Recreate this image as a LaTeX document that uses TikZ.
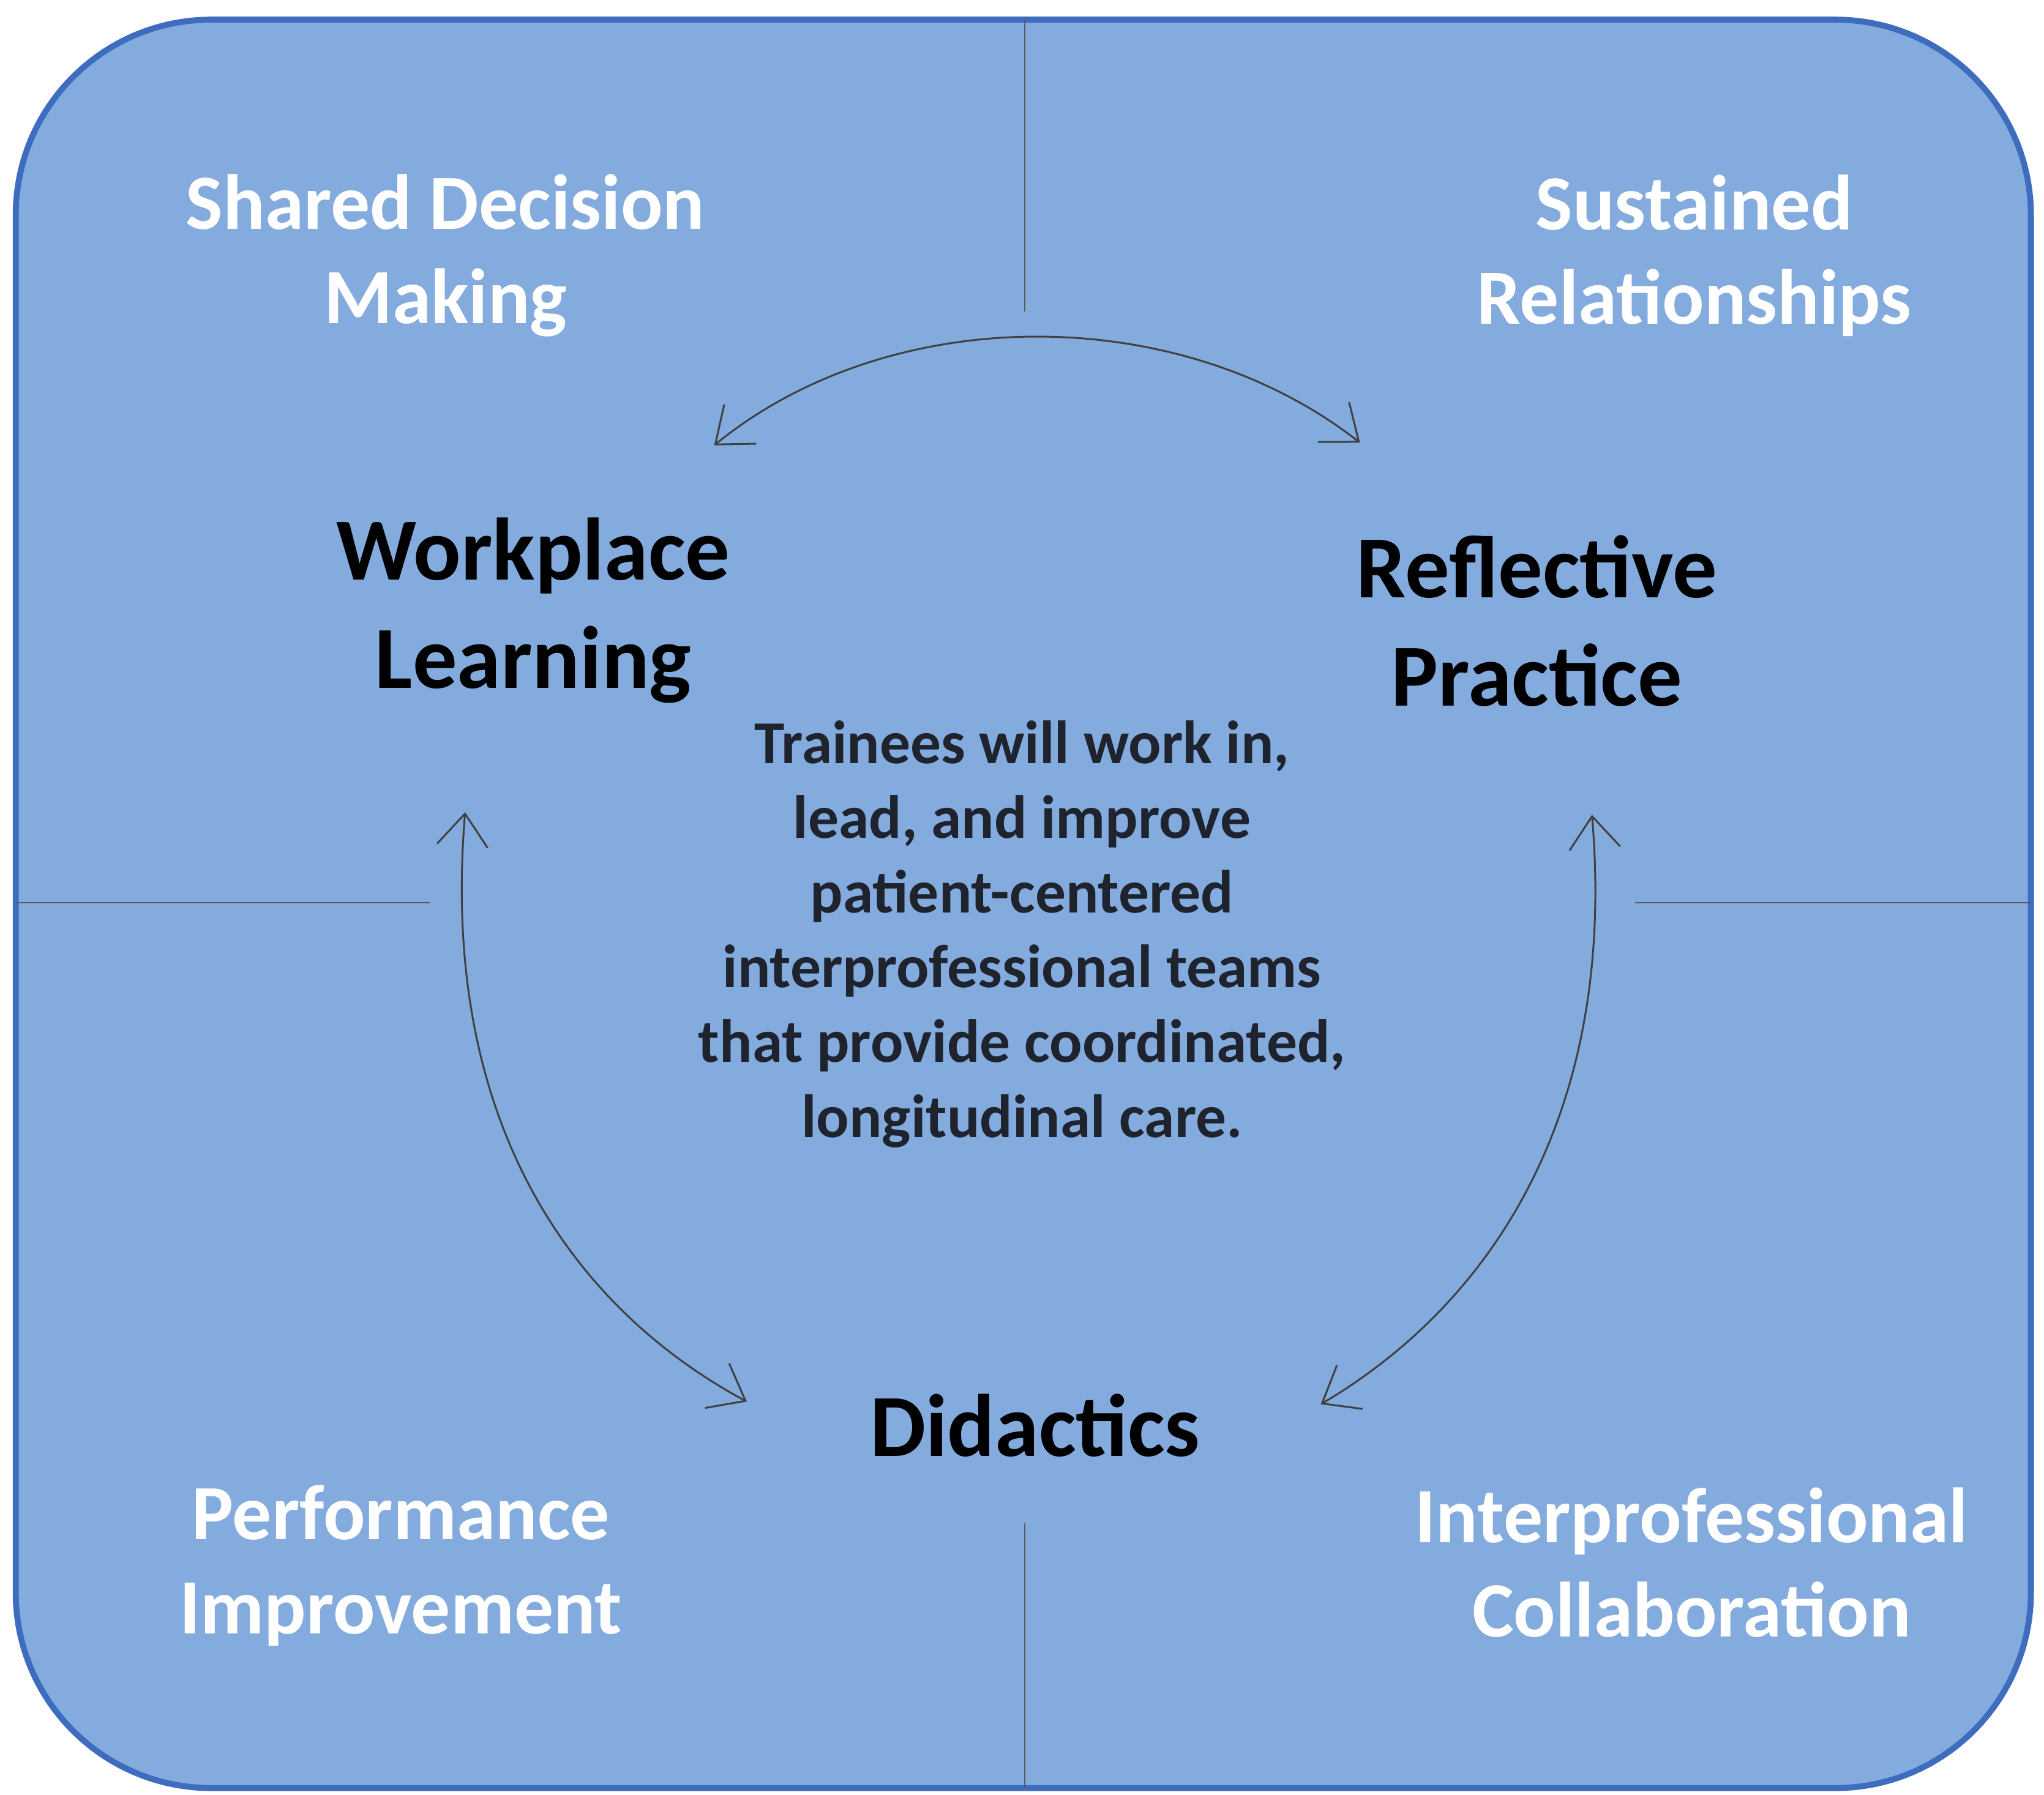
\documentclass[tikz,border=0pt]{standalone}
\usepackage{fontspec}
\setmainfont{Carlito}
\usetikzlibrary{arrows.meta}
\begin{document}
\begin{tikzpicture}[x=0.02cm,y=-0.02cm,
  corner/.style={text=white,font=\fontsize{34}{41}\selectfont\bfseries,align=center},
  main/.style={text=black,font=\fontsize{38.5}{47}\selectfont\bfseries,align=center},
  sep/.style={draw=black!65,line width=0.6pt},
  arc/.style={draw=black!75,line width=0.8pt,{Straight Barb[length=14pt,width=22pt]}-{Straight Barb[length=14pt,width=22pt]}}]
\useasboundingbox (0,0) rectangle (1560,1370);
\fill[white] (0,0) rectangle (1560,1370);
\draw[fill={rgb,255:red,131;green,171;blue,222},draw={rgb,255:red,62;green,108;blue,190},line width=2.6pt,rounded corners=85pt] (12,15) rectangle (1550,1365);
\coordinate (t1) at (782,15); \coordinate (t2) at (782,238);
\coordinate (b1) at (782,1163); \coordinate (b2) at (782,1365);
\coordinate (l1) at (12,689); \coordinate (l2) at (328,689);
\coordinate (r1) at (1248,689); \coordinate (r2) at (1550,689);
\draw[sep] (t1)--(t2); \draw[sep] (b1)--(b2); \draw[sep] (l1)--(l2); \draw[sep] (r1)--(r2);
\node[corner] (sdm) at (340,195) {Shared Decision\\Making};
\node[corner] (sr) at (1293,195) {Sustained\\Relationships};
\node[corner] (pi) at (306,1195) {Performance\\Improvement};
\node[corner] (ic) at (1291,1193) {Interprofessional\\Collaboration};
\node[main] (wl) at (407,466) {Workplace\\Learning};
\node[main] (rp) at (1173,474) {Reflective\\Practice};
\node[main] (di) at (790,1088) {Didactics};
\node[text={rgb,255:red,30;green,35;blue,45},font=\fontsize{26.5}{32.5}\selectfont\bfseries,align=center] (ctr) at (780,713) {Trainees will work in,\\lead, and improve\\patient-centered\\interprofessional teams\\that provide coordinated,\\longitudinal care.};
\coordinate (a1) at (545,340); \coordinate (a2) at (1038,338);
\coordinate (a3) at (355,620); \coordinate (a4) at (570,1070);
\coordinate (a5) at (1215,622); \coordinate (a6) at (1008,1072);
\draw[arc] (a1) .. controls (680,230) and (900,230) .. (a2);
\draw[arc] (a3) .. controls (335,860) and (440,1000) .. (a4);
\draw[arc] (a5) .. controls (1235,860) and (1130,1000) .. (a6);
\end{tikzpicture}
\end{document}
